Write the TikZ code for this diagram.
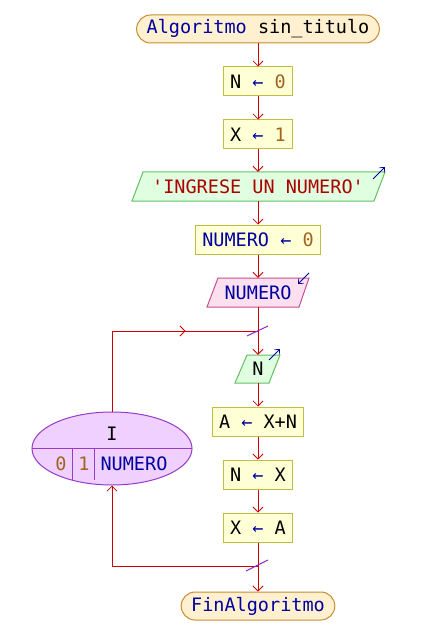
\documentclass[tikz,border=0pt]{standalone}
\usepackage{fontspec}
\setmonofont{DejaVu Sans Mono}
\usetikzlibrary{arrows.meta,shapes.geometric,decorations.markings}
\definecolor{procfill}{RGB}{255,255,214}
\definecolor{procline}{RGB}{196,188,64}
\definecolor{termfill}{RGB}{255,240,208}
\definecolor{termline}{RGB}{200,140,50}
\definecolor{iofill}{RGB}{224,255,224}
\definecolor{ioline}{RGB}{100,190,100}
\definecolor{pinkfill}{RGB}{252,224,240}
\definecolor{pinkline}{RGB}{200,80,140}
\definecolor{forfill}{RGB}{240,208,255}
\definecolor{forline}{RGB}{150,60,200}
\definecolor{flowred}{RGB}{204,0,0}
\definecolor{kwblue}{RGB}{0,0,160}
\definecolor{numbrown}{RGB}{160,100,30}
\definecolor{strred}{RGB}{170,0,0}
\definecolor{slashc}{RGB}{140,40,200}
\begin{document}
\begin{tikzpicture}[x=1pt,y=-1pt,
  font=\ttfamily\fontsize{18.5}{20}\selectfont,
  procbox/.style={draw=procline, fill=procfill, line width=1pt, minimum height=29pt, inner xsep=7pt, inner ysep=0pt},
  termbox/.style={draw=termline, fill=termfill, line width=1pt, rounded corners=14pt, minimum height=28pt, inner xsep=10pt, inner ysep=0pt},
  iotext/.style={minimum height=29pt, inner sep=0pt},
  iogreen/.style={draw=ioline, fill=iofill, line width=1pt},
  iopink/.style={draw=pinkline, fill=pinkfill, line width=1pt},
  flowtip/.tip={Straight Barb[length=5pt,width=10pt,line width=0.8pt]},
  flow/.style={draw=flowred, line width=1pt, -flowtip},
  flowline/.style={draw=flowred, line width=1pt},
  cornerarrow/.style={draw=kwblue, line width=0.8pt, -{Straight Barb[length=4pt,width=7pt,line width=0.7pt]}},
  slash/.style={draw=slashc, line width=1pt},
  arr/.style={text=kwblue},
  num/.style={text=numbrown}]
\useasboundingbox (0,0) rectangle (420,639);

% nodes
\node[termbox] (start) at (258,29) {\textcolor{kwblue}{Algoritmo} sin\_titulo};
\node[procbox] (n0) at (258,81.5) {N \textcolor{kwblue}{←} \textcolor{numbrown}{0}};
\node[procbox] (x1) at (258,134.5) {X \textcolor{kwblue}{←} \textcolor{numbrown}{1}};
\draw[iogreen] (143,172) -- (385,172) -- (374,201) -- (132,201) -- cycle;
\node[iotext, text=strred] (msg) at (258,186.5) {'INGRESE UN NUMERO'};
\draw[cornerarrow] (373,179) -- (385,167);
\node[procbox] (num0) at (258,239.5) {\textcolor{kwblue}{NUMERO ←} \textcolor{numbrown}{0}};
\draw[iopink] (218,278) -- (309,278) -- (299,307) -- (207,307) -- cycle;
\node[iotext, text=kwblue] (rd) at (258,292.5) {NUMERO};
\draw[cornerarrow] (309,273) -- (298,284);
\draw[iogreen] (247,355) -- (280,355) -- (269,383) -- (235,383) -- cycle;
\node[iotext, minimum height=28pt] (wn) at (258,369) {N};
\draw[cornerarrow] (269,360) -- (280,349);
\node[procbox] (axn) at (258,421.5) {A \textcolor{kwblue}{←} X+N};
\node[procbox] (nx) at (258,474.5) {N \textcolor{kwblue}{←} X};
\node[procbox] (xa) at (258,527.5) {X \textcolor{kwblue}{←} A};
\node[termbox, text=kwblue] (fin) at (258,606) {FinAlgoritmo};

% for loop ellipse
\node[ellipse, draw=forline, fill=forfill, line width=1pt, minimum width=160pt, minimum height=73pt, inner sep=0pt] (forI) at (112,448.5) {};
\begin{scope}
  \clip (112,448.5) ellipse [x radius=80pt, y radius=36.5pt];
  \draw[forline, line width=1pt] (32,448.5) -- (192,448.5);
  \draw[forline, line width=1pt] (72,448.5) -- (72,480);
  \draw[forline, line width=1pt] (94,448.5) -- (94,480);
\end{scope}
\node (forvar) at (112,434) {I};
\node[text=numbrown] (forstart) at (61,463.5) {0};
\node[text=numbrown] (forstep) at (84,463.5) {1};
\node[text=kwblue] (forend) at (134,463.5) {NUMERO};

% connectors
\coordinate (j1) at (258,331);
\coordinate (j2) at (258,566);
\draw[flow] (start) -- (n0);
\draw[flow] (n0) -- (x1);
\draw[flow] (x1) -- (msg);
\draw[flow] (msg) -- (num0);
\draw[flow] (num0) -- (rd);
\draw[flow] (rd) -- (wn);
\draw[flow] (wn) -- (axn);
\draw[flow] (axn) -- (nx);
\draw[flow] (nx) -- (xa);
\draw[flow] (xa) -- (fin);
\draw[flowline, postaction={decorate}, decoration={markings, mark=at position 154pt with {\arrow{flowtip}}}] (forI.north) |- (j1);
\draw[flow] (j2) -| (forI.south);
\draw[slash] (247,336) -- (268,326);
\draw[slash] (246,571) -- (268,560);
\end{tikzpicture}
\end{document}
